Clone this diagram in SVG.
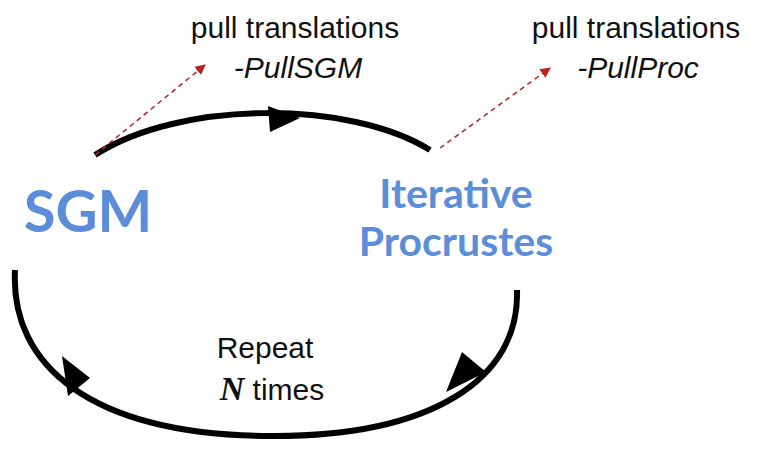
<svg xmlns="http://www.w3.org/2000/svg" width="765" height="454" viewBox="0 0 765 454">
<style>
.lbl{font-family:"Liberation Sans",Arial,sans-serif;font-size:30px;fill:#111;text-anchor:middle}
.it{font-style:italic}
.node{font-family:Lato,"Open Sans",sans-serif;font-weight:bold;fill:#5b8dd9;text-anchor:middle}
.arc{fill:none;stroke:#000;stroke-width:6}
.dash{fill:none;stroke:#b22;stroke-width:1.5;stroke-dasharray:5,4}
</style>
<defs>
<marker id="rh" viewBox="0 0 10 10" refX="9" refY="5" markerWidth="7" markerHeight="7" orient="auto"><path d="M0,0 L10,5 L0,10 Z" fill="#b22"/></marker>
</defs>
<rect width="765" height="454" fill="#fff"/>
<g id="connectors">
<path class="arc" d="M95,155 C180,100 350,100 430,150"/>
<polygon points="300,118 268,106 270,132"/>
<path class="arc" d="M15,270 C10,365 90,435 270,436 C430,437 520,380 517,290"/>
<polygon points="446,392 486,372 462,352"/>
<polygon points="62,356 68,396 90,378"/>
<path class="dash" d="M95,155 L205,65" marker-end="url(#rh)"/>
<path class="dash" d="M440,148 L550,68" marker-end="url(#rh)"/>
</g>
<g id="sgm"><text class="node" x="88" y="232" font-size="58">SGM</text></g>
<g id="procrustes"><text class="node" x="456" y="208" font-size="41">Iterative</text><text class="node" x="456" y="256" font-size="41">Procrustes</text></g>
<g id="pull1"><text class="lbl" x="295" y="38">pull translations</text><text class="lbl it" x="298" y="78" font-size="27">-PullSGM</text></g>
<g id="pull2"><text class="lbl" x="636" y="38">pull translations</text><text class="lbl it" x="638" y="78" font-size="27">-PullProc</text></g>
<g id="repeat"><text class="lbl" x="265" y="358" font-size="29">Repeat</text><text class="lbl" x="272" y="400" font-size="29"><tspan font-family="'Liberation Serif',serif" font-weight="bold" font-style="italic" font-size="34">N</tspan> times</text></g>
</svg>
